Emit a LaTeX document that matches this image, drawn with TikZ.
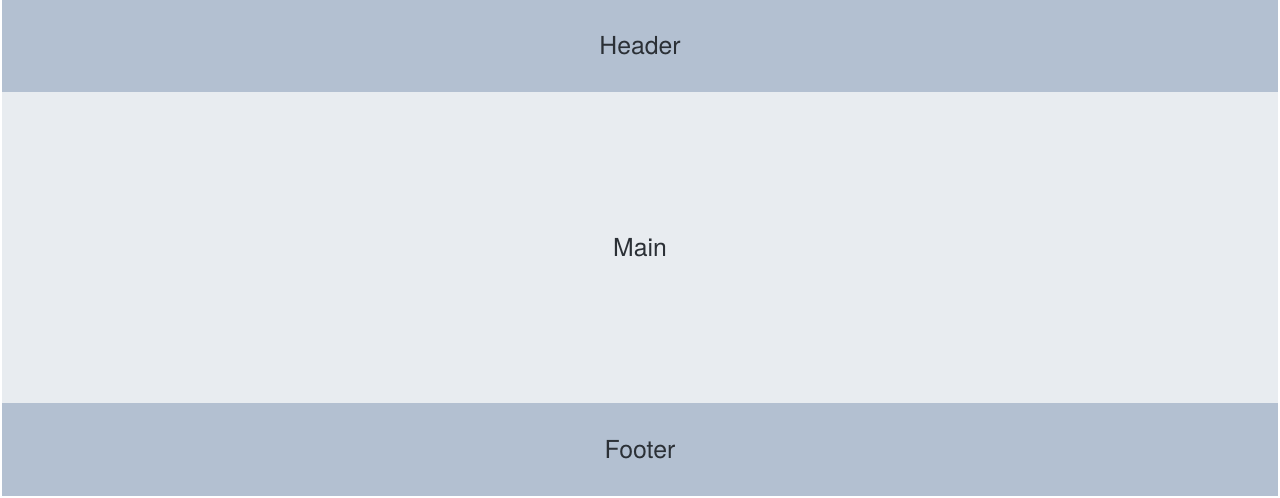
\documentclass[tikz,border=0pt]{standalone}
\usepackage{fontspec}
\setmainfont{TeX Gyre Heros}
\definecolor{bandc}{HTML}{B3C0D1}
\definecolor{mainc}{HTML}{E8ECF0}
\definecolor{txt}{HTML}{2B3036}
\tikzset{
  band/.style={fill=bandc, draw=none},
  mainband/.style={fill=mainc, draw=none},
  lbl/.style={text=txt, font=\fontsize{24.8}{29}\selectfont, inner sep=0pt}
}
\begin{document}
\begin{tikzpicture}[x=1pt,y=-1pt]
\useasboundingbox[fill=white] (0,0) rectangle (1280,498);
\path[band] (2,0) rectangle (1278,92);
\path[mainband] (2,92) rectangle (1278,403);
\path[band] (2,403) rectangle (1278,496);
\node[lbl] (header) at (640,46) {Header};
\node[lbl] (main) at (640,248) {Main};
\node[lbl] (footer) at (640,450) {Footer};
\end{tikzpicture}
\end{document}
